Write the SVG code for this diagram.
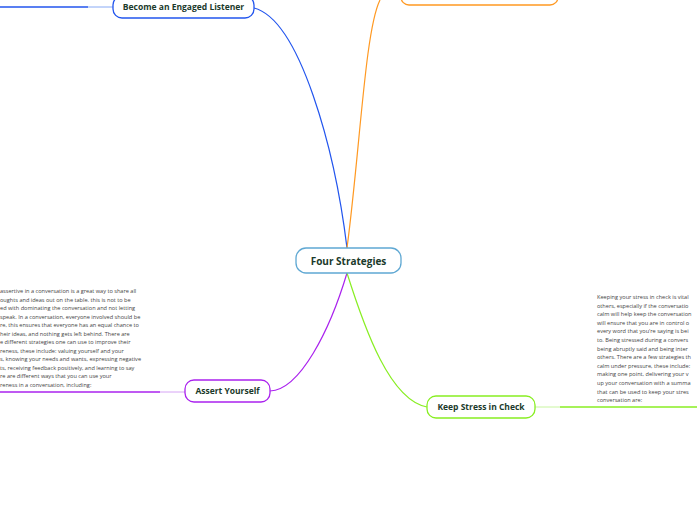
<svg xmlns="http://www.w3.org/2000/svg" width="697" height="520" viewBox="0 0 697 520">
<style>
.n{fill:#fff;stroke-width:1.3}
.t{font-family:"Open Sans","Noto Sans",sans-serif;font-size:8.5px;font-weight:bold;fill:#1b3a2b;text-anchor:middle}
.d{font-family:"Open Sans","Noto Sans",sans-serif;font-size:5.6px;fill:#444}
.c{fill:none;stroke-width:1.2}
</style>
<rect width="697" height="520" fill="#fff"/>
<g id="connectors">
<path class="c" stroke="#2255ee" d="M347,248 C335,150 300,20 254,8"/>
<path class="c" stroke="#ff9922" d="M347,248 C360,150 365,30 380,0"/>
<path class="c" stroke="#aa22ee" d="M347,273 C330,330 300,390 270,391"/>
<path class="c" stroke="#88ee22" d="M347,273 C365,330 390,400 427,407"/>
<line x1="0" y1="7" x2="88" y2="7" stroke="#2255ee" stroke-width="1.5"/>
<line x1="88" y1="7" x2="113" y2="7" stroke="#88aaf5" stroke-width="1"/>
<line x1="0" y1="392" x2="160" y2="392" stroke="#aa22ee" stroke-width="1.5"/>
<line x1="160" y1="392" x2="185" y2="392" stroke="#d6a4f5" stroke-width="1"/>
<line x1="535" y1="407" x2="560" y2="407" stroke="#c8f5a0" stroke-width="1"/>
<line x1="560" y1="407" x2="697" y2="407" stroke="#88ee22" stroke-width="1.5"/>
</g>
<g id="center"><rect class="n" x="296" y="248" width="105" height="25" rx="10" stroke="#5fa8d3"/><text class="t" x="348.5" y="264.5" style="font-size:10px">Four Strategies</text></g>
<g id="listener"><rect class="n" x="113" y="-4" width="141" height="22" rx="9" stroke="#2255ee"/><text class="t" x="183.5" y="10">Become an Engaged Listener</text></g>
<g id="orange"><rect class="n" x="401" y="-12" width="157" height="17" rx="8" stroke="#ff9922"/></g>
<g id="assert"><rect class="n" x="185" y="380" width="85" height="22" rx="9" stroke="#aa22ee"/><text class="t" x="227.5" y="394">Assert Yourself</text>
<text class="d"><tspan x="0" y="293">assertive in a conversation is a great way to share all</tspan><tspan x="0" y="301.5">oughts and ideas out on the table. this is not to be</tspan><tspan x="0" y="310">ed with dominating the conversation and not letting</tspan><tspan x="0" y="318.5">speak. In a conversation, everyone involved should be</tspan><tspan x="0" y="327">re, this ensures that everyone has an equal chance to</tspan><tspan x="0" y="335.5">heir ideas, and nothing gets left behind. There are</tspan><tspan x="0" y="344">e different strategies one can use to improve their</tspan><tspan x="0" y="352.5">reness, these include: valuing yourself and your</tspan><tspan x="0" y="361">s, knowing your needs and wants, expressing negative</tspan><tspan x="0" y="369.5">ts, receiving feedback positively, and learning to say</tspan><tspan x="0" y="378">re are different ways that you can use your</tspan><tspan x="0" y="386.5">reness in a conversation, including:</tspan></text></g>
<g id="stress"><rect class="n" x="427" y="396" width="108" height="22" rx="9" stroke="#88ee22"/><text class="t" x="481" y="410">Keep Stress in Check</text>
<text class="d"><tspan x="597" y="299">Keeping your stress in check is vital</tspan><tspan x="597" y="307.6">others, especially if the conversatio</tspan><tspan x="597" y="316.2">calm will help keep the conversation</tspan><tspan x="597" y="324.8">will ensure that you are in control o</tspan><tspan x="597" y="333.4">every word that you're saying is bei</tspan><tspan x="597" y="342">to. Being stressed during a convers</tspan><tspan x="597" y="350.6">being abruptly said and being inter</tspan><tspan x="597" y="359.2">others. There are a few strategies th</tspan><tspan x="597" y="367.8">calm under pressure, these include:</tspan><tspan x="597" y="376.4">making one point, delivering your v</tspan><tspan x="597" y="385">up your conversation with a summa</tspan><tspan x="597" y="393.6">that can be used to keep your stres</tspan><tspan x="597" y="402.2">conversation are:</tspan></text></g>
</svg>
